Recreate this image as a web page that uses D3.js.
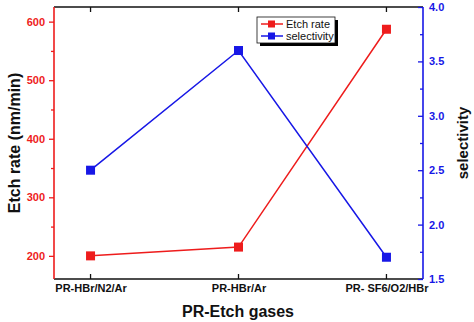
<!DOCTYPE html>
<html><head><meta charset="utf-8">
<script src="https://cdn.jsdelivr.net/npm/d3@7"></script>
<style>body{margin:0;background:#fff}svg{display:block}text{font-family:"Liberation Sans",Arial,sans-serif}</style>
</head><body>
<svg id="c" width="474" height="322"></svg>
<script>
const categories = ["PR-HBr/N2/Ar", "PR-HBr/Ar", "PR- SF6/O2/HBr"];
const etchRate = [200, 215, 587];
const selectivity = [2.5, 3.6, 1.7];
const leftTicks = [200, 300, 400, 500, 600];
const rightTicks = [1.5, 2.0, 2.5, 3.0, 3.5, 4.0];
const seriesNames = ["Etch rate", "selectivity"];

const RED = "#ee1c1c", BLUE = "#1717e6";
const svg = d3.select("#c");
const L = 54, R = 423, T = 7, B = 279;

const x = d3.scalePoint().domain(categories).range([L, R]).padding(0.247);
const yL = d3.scaleLinear().domain([160.5, 625]).range([B, T]);
const yR = d3.scaleLinear().domain([1.5, 4.0]).range([B, T]);

svg.append("line").attr("x1", L).attr("x2", R).attr("y1", T).attr("y2", T).attr("stroke", "#111").attr("stroke-width", 1.6);
svg.append("line").attr("x1", L).attr("x2", R).attr("y1", B).attr("y2", B).attr("stroke", "#111").attr("stroke-width", 1.6);

categories.forEach(c => {
  svg.append("line").attr("x1", x(c)).attr("x2", x(c)).attr("y1", B).attr("y2", B - 5).attr("stroke", "#111").attr("stroke-width", 1.3);
  svg.append("line").attr("x1", x(c)).attr("x2", x(c)).attr("y1", T).attr("y2", T + 5).attr("stroke", "#111").attr("stroke-width", 1.3);
});

const bAxis = svg.append("g").attr("transform", `translate(0,${B})`)
  .call(d3.axisBottom(x).tickSize(0).tickPadding(5));
bAxis.select(".domain").remove();
bAxis.selectAll("text").attr("font-size", 11).attr("font-weight", "bold").attr("fill", "#111");

const gL = svg.append("g").attr("transform", `translate(${L},0)`)
  .call(d3.axisLeft(yL).tickValues(leftTicks).tickSize(5).tickPadding(4).tickFormat(d3.format("d")));
gL.select(".domain").attr("d", `M0,${B}V${T}`).attr("stroke", RED).attr("stroke-width", 1.6);
gL.selectAll(".tick line").attr("stroke", RED).attr("stroke-width", 1.3);
gL.selectAll("text").attr("fill", RED).attr("font-size", 11).attr("font-weight", "bold");
const gLm = svg.append("g").attr("transform", `translate(${L},0)`)
  .call(d3.axisLeft(yL).tickValues([250, 350, 450, 550]).tickSize(3).tickFormat(""));
gLm.select(".domain").remove();
gLm.selectAll(".tick line").attr("stroke", RED).attr("stroke-width", 1.3);

const gR = svg.append("g").attr("transform", `translate(${R},0)`)
  .call(d3.axisRight(yR).tickValues(rightTicks).tickSizeInner(-5).tickSizeOuter(0).tickPadding(6).tickFormat(d3.format(".1f")));
gR.select(".domain").attr("d", `M0,${B}V${T}`).attr("stroke", BLUE).attr("stroke-width", 1.6);
gR.selectAll(".tick line").attr("stroke", BLUE).attr("stroke-width", 1.3);
gR.selectAll("text").attr("fill", BLUE).attr("font-size", 11).attr("font-weight", "bold");
const gRm = svg.append("g").attr("transform", `translate(${R},0)`)
  .call(d3.axisRight(yR).tickValues([1.75, 2.25, 2.75, 3.25, 3.75]).tickSizeInner(-3).tickSizeOuter(0).tickFormat(""));
gRm.select(".domain").remove();
gRm.selectAll(".tick line").attr("stroke", BLUE).attr("stroke-width", 1.3);

const lineL = d3.line().x((d, i) => x(categories[i])).y(d => yL(d));
const lineR = d3.line().x((d, i) => x(categories[i])).y(d => yR(d));
svg.append("path").attr("d", lineL(etchRate)).attr("fill", "none").attr("stroke", RED).attr("stroke-width", 1.5);
svg.append("path").attr("d", lineR(selectivity)).attr("fill", "none").attr("stroke", BLUE).attr("stroke-width", 1.5);
const S = 9;
svg.selectAll(".mr").data(etchRate).enter().append("rect")
  .attr("x", (d, i) => x(categories[i]) - S / 2).attr("y", d => yL(d) - S / 2).attr("width", S).attr("height", S).attr("fill", RED);
svg.selectAll(".mb").data(selectivity).enter().append("rect")
  .attr("x", (d, i) => x(categories[i]) - S / 2).attr("y", d => yR(d) - S / 2).attr("width", S).attr("height", S).attr("fill", BLUE);

svg.append("text").attr("transform", `translate(20,${(T + B) / 2}) rotate(-90)`).attr("text-anchor", "middle")
  .attr("font-size", 16).attr("font-weight", "bold").attr("fill", "#111").text("Etch rate (nm/min)");
svg.append("text").attr("transform", `translate(468,${(T + B) / 2}) rotate(-90)`).attr("text-anchor", "middle")
  .attr("font-size", 15).attr("font-weight", "bold").attr("fill", "#111").text("selectivity");
svg.append("text").attr("x", 238).attr("y", 317).attr("text-anchor", "middle")
  .attr("font-size", 16).attr("font-weight", "bold").attr("fill", "#111").text("PR-Etch gases");

const lx = 257, ly = 17, lw = 78, lh = 26;
svg.append("rect").attr("x", lx + 3).attr("y", ly + 3).attr("width", lw).attr("height", lh).attr("fill", "#000");
svg.append("rect").attr("x", lx).attr("y", ly).attr("width", lw).attr("height", lh).attr("fill", "#fff").attr("stroke", "#111").attr("stroke-width", 0.8);
[RED, BLUE].forEach((col, i) => {
  const yy = ly + 7 + i * 12;
  svg.append("line").attr("x1", lx + 4).attr("x2", lx + 26).attr("y1", yy).attr("y2", yy).attr("stroke", col).attr("stroke-width", 1.5);
  svg.append("rect").attr("x", lx + 11).attr("y", yy - 3.5).attr("width", 7).attr("height", 7).attr("fill", col);
  svg.append("text").attr("x", lx + 29).attr("y", yy + 4).attr("font-size", 11).attr("fill", "#111").text(seriesNames[i]);
});
</script>
</body></html>
